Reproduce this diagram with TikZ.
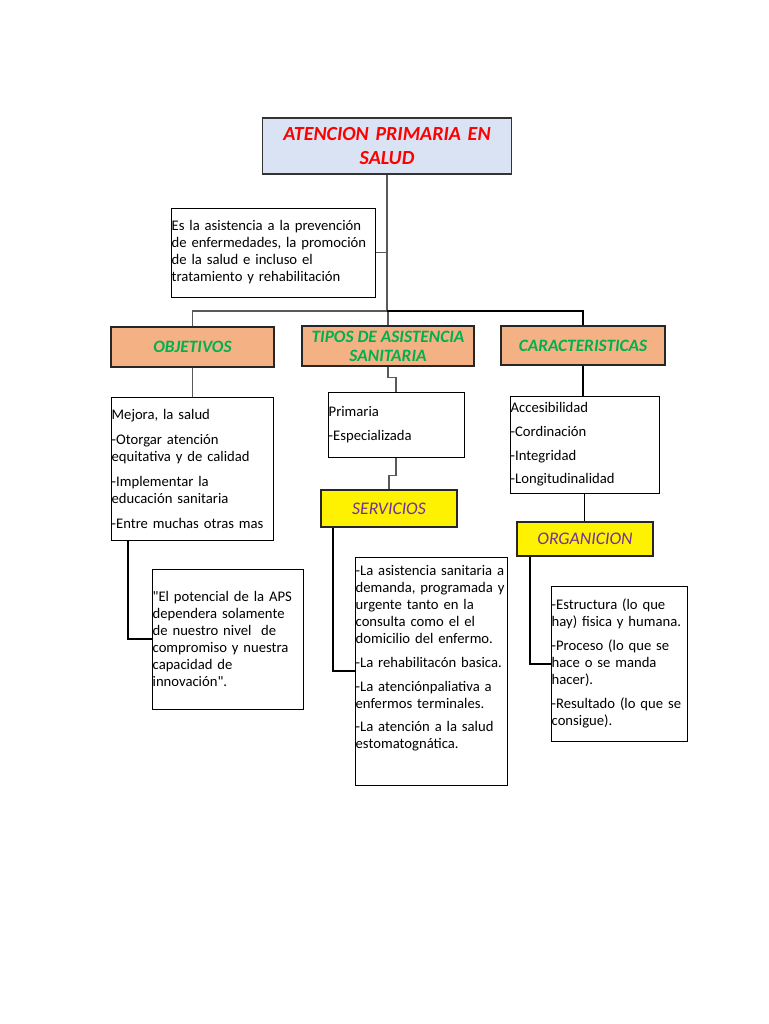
\documentclass[tikz,border=0pt]{standalone}
\usepackage{fontspec}
\setmainfont{Carlito}
\newfontfamily\comillas{Carlito}
\definecolor{azulclaro}{HTML}{DAE3F3}
\definecolor{salmon}{HTML}{F4B183}
\definecolor{verde}{HTML}{00B050}
\definecolor{morado}{HTML}{7030A0}
\begin{document}
\begin{tikzpicture}[x=0.75pt,y=-0.75pt,
    titulo/.style={draw=black!80, line width=1pt, fill=azulclaro, minimum width=184.5pt,
      minimum height=42pt, text width=180pt, align=center, text=red,
      font=\fontsize{15}{18}\selectfont\bfseries\itshape},
    cabeza/.style={draw=black!85, line width=1pt, fill=salmon, minimum height=30pt,
      align=center, text=verde, font=\fontsize{13}{14.25}\selectfont\bfseries\itshape},
    amarillo/.style={draw=black!85, line width=1pt, fill=yellow, minimum width=102pt,
      text=morado, font=\fontsize{13.3}{15}\selectfont\itshape},
    caja/.style={draw, line width=0.75pt, align=left, inner xsep=0.5pt,
      font=\fontsize{11}{12.75}\selectfont},
    linea/.style={draw=black!65, line width=1pt},
    gruesa/.style={draw=black, line width=1.5pt}]
  \useasboundingbox (0,0) rectangle (768,1024);

  \node (aps) [titulo] at (387,146) {ATENCION PRIMARIA EN\\SALUD};
  \node (def) [caja, minimum width=153pt, text width=152pt, minimum height=66.75pt] at (273,252.5)
    {Es la asistencia a la prevención\\de enfermedades, la promoción\\de la salud e incluso el\\tratamiento y rehabilitación};
  \coordinate (rama) at (387,311);

  \node (obj)   [cabeza, minimum width=122.25pt] at (192.5,347) {OBJETIVOS};
  \node (tipos) [cabeza, minimum width=129pt] at (388,346) {TIPOS DE ASISTENCIA\\SANITARIA};
  \node (carac) [cabeza, minimum width=123pt, minimum height=29.25pt] at (583,345.5) {CARACTERISTICAS};

  \node (objlist) [caja, minimum width=121.5pt, text width=120.5pt, minimum height=107.25pt] at (192,468.5)
    {Mejora, la salud\\[6pt]-Otorgar atención\\equitativa y de calidad\\[6pt]-Implementar la\\educación sanitaria\\[6pt]-Entre muchas otras mas};
  \node (cita) [caja, minimum width=113.25pt, text width=112.25pt, minimum height=105pt] at (227.5,639)
    {{\comillas"}El potencial de la APS\\dependera solamente\\de nuestro nivel~ de\\compromiso y nuestra\\capacidad de\\innovación{\comillas"}.};

  \node (prim) [caja, minimum width=102pt, text width=101pt, minimum height=48.75pt] at (396,424.5)
    {Primaria\\[5pt]-Especializada};
  \node (serv) [amarillo, minimum height=27.75pt] at (389,508.5) {SERVICIOS};
  \node (servlist) [caja, minimum width=114pt, text width=113pt, minimum height=171pt] at (431,671)
    {-La asistencia sanitaria a\\demanda, programada y\\urgente tanto en la\\consulta como el el\\domicilio del enfermo.\\[5pt]-La rehabilitacón basica.\\[5pt]-La atenciónpaliativa a\\enfermos terminales.\\[5pt]-La atención a la salud\\estomatognática.\\[8pt]\mbox{}};

  \node (acc) [caja, minimum width=111.75pt, text width=110.75pt, minimum height=72.75pt] at (584.5,444.5)
    {Accesibilidad\\[5pt]-Cordinación\\[5pt]-Integridad\\[5pt]-Longitudinalidad};
  \node (org) [amarillo, minimum height=25.5pt] at (585,539) {ORGANICION};
  \node (orglist) [caja, minimum width=102pt, text width=101pt, minimum height=116.25pt] at (619,663.5)
    {-Estructura (lo que\\hay) fisica y humana.\\[5pt]-Proceso (lo que se\\hace o se manda\\hacer).\\[5pt]-Resultado (lo que se\\consigue).};

  \path[linea]
    (aps.south) -- (rama)
    (def.east) -- (def.east -| rama)
    (obj.north) |- (rama)
    (tipos.north) -- (tipos.north |- rama)
    (obj.south) -- (obj.south |- objlist.north)
    (tipos.south) -- ++(0,11) -| (prim.north)
    (prim.south) -- ++(0,18) -| (serv.north);
  \path[linea, draw=black]
    (rama) -| (carac.north)
    (carac.south) -- (carac.south |- acc.north)
    (acc.south) -- (acc.south |- org.north);
  \path[gruesa]
    ([xshift=12.75pt]objlist.south west) |- (cita.west)
    ([xshift=9.75pt]serv.south west) |- (servlist.west)
    ([xshift=10.5pt]org.south west) |- (orglist.west);
\end{tikzpicture}
\end{document}
